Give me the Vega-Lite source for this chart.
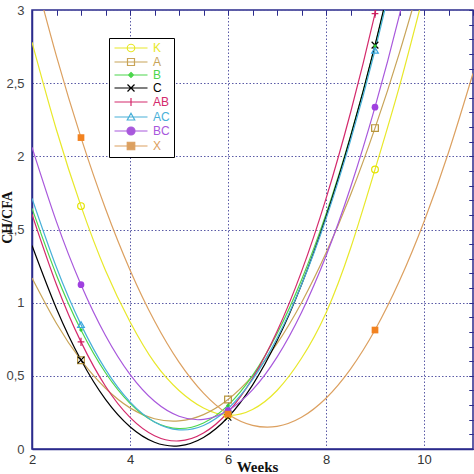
{
  "$schema": "https://vega.github.io/schema/vega-lite/v6.json",
  "width": 441,
  "height": 439,
  "autosize": {"type": "none"},
  "padding": {"left": 32, "top": 10, "right": 1, "bottom": 25},
  "background": "white",
  "config": {"view": {"stroke": "#2b2b8c", "strokeWidth": 1.5}, "font": "Liberation Sans"},
  "datasets": {
    "curves": [
      {"s": "K", "x": 2, "y": 2.78}, {"s": "K", "x": 2.5, "y": 2.18}, {"s": "K", "x": 3, "y": 1.66}, {"s": "K", "x": 3.5, "y": 1.22}, {"s": "K", "x": 4, "y": 0.87}, {"s": "K", "x": 4.5, "y": 0.59}, {"s": "K", "x": 5, "y": 0.4}, {"s": "K", "x": 5.5, "y": 0.28}, {"s": "K", "x": 6, "y": 0.23}, {"s": "K", "x": 6.5, "y": 0.27}, {"s": "K", "x": 7, "y": 0.4}, {"s": "K", "x": 7.5, "y": 0.62}, {"s": "K", "x": 8, "y": 0.93}, {"s": "K", "x": 8.5, "y": 1.37}, {"s": "K", "x": 9, "y": 1.91}, {"s": "K", "x": 9.5, "y": 2.48}, {"s": "K", "x": 10, "y": 3.12},
      {"s": "A", "x": 2, "y": 1.169}, {"s": "A", "x": 2.5, "y": 0.858}, {"s": "A", "x": 3, "y": 0.607}, {"s": "A", "x": 3.5, "y": 0.415}, {"s": "A", "x": 4, "y": 0.281}, {"s": "A", "x": 4.5, "y": 0.207}, {"s": "A", "x": 5, "y": 0.192}, {"s": "A", "x": 5.5, "y": 0.235}, {"s": "A", "x": 6, "y": 0.338}, {"s": "A", "x": 6.5, "y": 0.5}, {"s": "A", "x": 7, "y": 0.72}, {"s": "A", "x": 7.5, "y": 1.0}, {"s": "A", "x": 8, "y": 1.339}, {"s": "A", "x": 8.5, "y": 1.736}, {"s": "A", "x": 9, "y": 2.193}, {"s": "A", "x": 9.5, "y": 2.709}, {"s": "A", "x": 10, "y": 3.283},
      {"s": "B", "x": 2, "y": 1.645}, {"s": "B", "x": 2.5, "y": 1.188}, {"s": "B", "x": 3, "y": 0.813}, {"s": "B", "x": 3.5, "y": 0.521}, {"s": "B", "x": 4, "y": 0.312}, {"s": "B", "x": 4.5, "y": 0.185}, {"s": "B", "x": 5, "y": 0.14}, {"s": "B", "x": 5.5, "y": 0.178}, {"s": "B", "x": 6, "y": 0.298}, {"s": "B", "x": 6.5, "y": 0.501}, {"s": "B", "x": 7, "y": 0.787}, {"s": "B", "x": 7.5, "y": 1.155}, {"s": "B", "x": 8, "y": 1.605}, {"s": "B", "x": 8.5, "y": 2.138}, {"s": "B", "x": 9, "y": 2.754}, {"s": "B", "x": 9.5, "y": 3.452},
      {"s": "C", "x": 2, "y": 1.391}, {"s": "C", "x": 2.5, "y": 0.959}, {"s": "C", "x": 3, "y": 0.608}, {"s": "C", "x": 3.5, "y": 0.339}, {"s": "C", "x": 4, "y": 0.152}, {"s": "C", "x": 4.5, "y": 0.046}, {"s": "C", "x": 5, "y": 0.022}, {"s": "C", "x": 5.5, "y": 0.079}, {"s": "C", "x": 6, "y": 0.217}, {"s": "C", "x": 6.5, "y": 0.437}, {"s": "C", "x": 7, "y": 0.739}, {"s": "C", "x": 7.5, "y": 1.122}, {"s": "C", "x": 8, "y": 1.586}, {"s": "C", "x": 8.5, "y": 2.132}, {"s": "C", "x": 9, "y": 2.76}, {"s": "C", "x": 9.5, "y": 3.469},
      {"s": "AB", "x": 2, "y": 1.604}, {"s": "AB", "x": 2.5, "y": 1.123}, {"s": "AB", "x": 3, "y": 0.732}, {"s": "AB", "x": 3.5, "y": 0.429}, {"s": "AB", "x": 4, "y": 0.216}, {"s": "AB", "x": 4.5, "y": 0.091}, {"s": "AB", "x": 5, "y": 0.055}, {"s": "AB", "x": 5.5, "y": 0.109}, {"s": "AB", "x": 6, "y": 0.251}, {"s": "AB", "x": 6.5, "y": 0.483}, {"s": "AB", "x": 7, "y": 0.803}, {"s": "AB", "x": 7.5, "y": 1.212}, {"s": "AB", "x": 8, "y": 1.711}, {"s": "AB", "x": 8.5, "y": 2.298}, {"s": "AB", "x": 9, "y": 2.975}, {"s": "AB", "x": 9.5, "y": 3.74},
      {"s": "AC", "x": 2, "y": 1.713}, {"s": "AC", "x": 2.5, "y": 1.24}, {"s": "AC", "x": 3, "y": 0.85}, {"s": "AC", "x": 3.5, "y": 0.544}, {"s": "AC", "x": 4, "y": 0.322}, {"s": "AC", "x": 4.5, "y": 0.185}, {"s": "AC", "x": 5, "y": 0.131}, {"s": "AC", "x": 5.5, "y": 0.161}, {"s": "AC", "x": 6, "y": 0.275}, {"s": "AC", "x": 6.5, "y": 0.474}, {"s": "AC", "x": 7, "y": 0.756}, {"s": "AC", "x": 7.5, "y": 1.122}, {"s": "AC", "x": 8, "y": 1.572}, {"s": "AC", "x": 8.5, "y": 2.107}, {"s": "AC", "x": 9, "y": 2.725}, {"s": "AC", "x": 9.5, "y": 3.427},
      {"s": "BC", "x": 2, "y": 2.062}, {"s": "BC", "x": 2.5, "y": 1.552}, {"s": "BC", "x": 3, "y": 1.123}, {"s": "BC", "x": 3.5, "y": 0.776}, {"s": "BC", "x": 4, "y": 0.51}, {"s": "BC", "x": 4.5, "y": 0.326}, {"s": "BC", "x": 5, "y": 0.224}, {"s": "BC", "x": 5.5, "y": 0.202}, {"s": "BC", "x": 6, "y": 0.263}, {"s": "BC", "x": 6.5, "y": 0.404}, {"s": "BC", "x": 7, "y": 0.628}, {"s": "BC", "x": 7.5, "y": 0.933}, {"s": "BC", "x": 8, "y": 1.319}, {"s": "BC", "x": 8.5, "y": 1.787}, {"s": "BC", "x": 9, "y": 2.336}, {"s": "BC", "x": 9.5, "y": 2.967}, {"s": "BC", "x": 10, "y": 3.679},
      {"s": "X", "x": 2, "y": 3.306}, {"s": "X", "x": 2.5, "y": 2.683}, {"s": "X", "x": 3, "y": 2.128}, {"s": "X", "x": 3.5, "y": 1.642}, {"s": "X", "x": 4, "y": 1.224}, {"s": "X", "x": 4.5, "y": 0.875}, {"s": "X", "x": 5, "y": 0.594}, {"s": "X", "x": 5.5, "y": 0.382}, {"s": "X", "x": 6, "y": 0.238}, {"s": "X", "x": 6.5, "y": 0.162}, {"s": "X", "x": 7, "y": 0.155}, {"s": "X", "x": 7.5, "y": 0.217}, {"s": "X", "x": 8, "y": 0.347}, {"s": "X", "x": 8.5, "y": 0.546}, {"s": "X", "x": 9, "y": 0.813}, {"s": "X", "x": 9.5, "y": 1.149}, {"s": "X", "x": 10, "y": 1.553}, {"s": "X", "x": 10.5, "y": 2.026}, {"s": "X", "x": 11, "y": 2.567}
    ],
    "markers": [
      {"m": "K", "x": 3, "y": 1.66}, {"m": "K", "x": 6, "y": 0.23}, {"m": "K", "x": 9, "y": 1.91},
      {"m": "A", "x": 3, "y": 0.607}, {"m": "A", "x": 6, "y": 0.338}, {"m": "A", "x": 9, "y": 2.193},
      {"m": "B", "x": 3, "y": 0.813}, {"m": "B", "x": 6, "y": 0.298}, {"m": "B", "x": 9, "y": 2.754},
      {"m": "C", "x": 3, "y": 0.608}, {"m": "C", "x": 6, "y": 0.217}, {"m": "C", "x": 9, "y": 2.76},
      {"m": "AB", "x": 3, "y": 0.732}, {"m": "AB", "x": 6, "y": 0.251}, {"m": "AB", "x": 9, "y": 2.975},
      {"m": "AC", "x": 3, "y": 0.85}, {"m": "AC", "x": 6, "y": 0.275}, {"m": "AC", "x": 9, "y": 2.725},
      {"m": "BC", "x": 3, "y": 1.123}, {"m": "BC", "x": 6, "y": 0.263}, {"m": "BC", "x": 9, "y": 2.336},
      {"m": "X", "x": 3, "y": 2.128}, {"m": "X", "x": 6, "y": 0.238}, {"m": "X", "x": 9, "y": 0.813}
    ]
  },
  "layer": [
    {
      "data": {"name": "curves"},
      "mark": {"type": "line", "interpolate": "natural", "clip": true, "strokeWidth": 1.2},
      "encoding": {
        "x": {
          "field": "x", "type": "quantitative",
          "scale": {"domain": [2, 11], "nice": false, "zero": false},
          "axis": {
            "values": [2, 4, 6, 8, 10], "title": "Weeks",
            "titleFont": "Liberation Serif", "titleFontSize": 15, "titleFontWeight": "bold", "titleColor": "#111111",
            "titleX": 225, "titleY": 17, "titleBaseline": "middle", "titleAlign": "center",
            "labelFont": "Liberation Sans", "labelFontSize": 13, "labelColor": "#333333", "labelPadding": 4,
            "labelFlush": false, "labelOverlap": false, "ticks": false,
            "grid": true, "gridColor": "#5a5aa6", "gridDash": [1.5, 2], "gridWidth": 1,
            "domainColor": "#2b2b8c", "domainWidth": 1.5
          }
        },
        "y": {
          "field": "y", "type": "quantitative",
          "scale": {"domain": [0, 3], "nice": false},
          "axis": {
            "values": [0, 0.5, 1, 1.5, 2, 2.5, 3],
            "labelExpr": "replace(format(datum.value, '~g'), '.', ',')",
            "title": "CH/CFA",
            "titleFont": "Liberation Serif", "titleFontSize": 14, "titleFontWeight": "bold", "titleColor": "#111111",
            "titleX": -21, "titleY": 207, "titleBaseline": "alphabetic", "titleAlign": "center", "titleAngle": 270,
            "labelFont": "Liberation Sans", "labelFontSize": 13, "labelColor": "#444444", "labelPadding": 8,
            "labelFlush": false, "labelOverlap": false, "ticks": false,
            "grid": true, "gridColor": "#5a5aa6", "gridDash": [1.5, 2], "gridWidth": 1,
            "domainColor": "#2b2b8c", "domainWidth": 1.5
          }
        },
        "color": {
          "field": "s", "type": "nominal",
          "scale": {
            "domain": ["K", "A", "B", "C", "AB", "AC", "BC", "X"],
            "range": ["#e8e82a", "#c8a458", "#4cd64c", "#000000", "#d42a6c", "#48b0d8", "#a858dc", "#dca060"]
          },
          "legend": {
            "orient": "none", "legendX": 77, "legendY": 28, "title": null,
            "padding": 4, "strokeColor": "#000000", "fillColor": "#ffffff",
            "symbolSize": 100, "symbolStrokeWidth": 1.2, "symbolOffset": 12, "labelOffset": 16,
            "rowPadding": 1, "labelFont": "Liberation Sans", "labelFontSize": 12,
            "symbolType": {"expr": "datum.value === 'K' ? 'M-3.3,0H3.3M-0.75,0A0.75,0.75 0 1,0 0.75,0A0.75,0.75 0 1,0 -0.75,0Z' : datum.value === 'A' ? 'M-3.3,0H3.3M-0.7,-0.7H0.7V0.7H-0.7Z' : datum.value === 'B' ? 'M-3.3,0H3.3M0,-0.5L0.5,0L0,0.5L-0.5,0Z' : datum.value === 'C' ? 'M-3.3,0H3.3M-0.7,-0.7L0.7,0.7M-0.7,0.7L0.7,-0.7' : datum.value === 'AB' ? 'M-3.3,0H3.3M0,-0.8V0.8' : datum.value === 'AC' ? 'M-3.3,0H3.3M0,-0.75L0.75,0.6H-0.75Z' : datum.value === 'BC' ? 'M-3.3,0H3.3M-0.8,0A0.8,0.8 0 1,0 0.8,0A0.8,0.8 0 1,0 -0.8,0Z' : 'M-3.3,0H3.3M-0.75,-0.75H0.75V0.75H-0.75Z'"},
            "symbolFillColor": {"expr": "indexof(['B','BC','X'], datum.value) >= 0 ? scale('color', datum.value) : '#ffffff'"},
            "encode": {
              "labels": {"update": {"fill": {"signal": "scale('color', datum.value)"}}}
            }
          }
        }
      }
    },
    {
      "data": {"name": "markers"},
      "transform": [{"filter": "indexof(['K','A','C','AB','AC'], datum.m) >= 0"}],
      "mark": {"type": "point", "filled": false, "strokeWidth": 1.2, "opacity": 1, "clip": true},
      "encoding": {
        "x": {
          "field": "x", "type": "quantitative",
          "axis": {"values": [2, 2.5, 3, 3.5, 4, 4.5, 5, 5.5, 6, 6.5, 7, 7.5, 8, 8.5, 9, 9.5, 10, 10.5, 11], "labels": false, "domain": false, "grid": false, "title": null, "tickSize": -5, "tickColor": "#2b2b8c", "tickWidth": 1}
        },
        "y": {
          "field": "y", "type": "quantitative",
          "axis": {"values": [0, 0.1, 0.2, 0.3, 0.4, 0.5, 0.6, 0.7, 0.8, 0.9, 1, 1.1, 1.2, 1.3, 1.4, 1.5, 1.6, 1.7, 1.8, 1.9, 2, 2.1, 2.2, 2.3, 2.4, 2.5, 2.6, 2.7, 2.8, 2.9, 3], "labels": false, "domain": false, "grid": false, "title": null, "tickSize": -4, "tickColor": "#2b2b8c", "tickWidth": 1}
        },
        "stroke": {
          "field": "m", "type": "nominal", "legend": null,
          "scale": {
            "domain": ["A", "AB", "AC", "B", "BC", "C", "K", "X"],
            "range": ["#b8953a", "#d0205e", "#3aa6e0", "#33cc33", "#a040e0", "#000000", "#e4e400", "#f28220"]
          }
        },
        "shape": {
          "field": "m", "type": "nominal", "legend": null,
          "scale": {
            "domain": ["A", "AB", "AC", "B", "BC", "C", "K", "X"],
            "range": ["square", "M-1,0H1M0,-1.2V1.2", "triangle-up", "diamond", "circle", "M-1,-1L1,1M-1,1L1,-1", "circle", "square"]
          }
        },
        "size": {"value": 45}
      }
    },
    {
      "data": {"name": "markers"},
      "transform": [{"filter": "indexof(['B','BC','X'], datum.m) >= 0"}],
      "mark": {"type": "point", "filled": true, "opacity": 1, "clip": true},
      "encoding": {
        "x": {
          "field": "x", "type": "quantitative",
          "axis": {"orient": "top", "values": [2, 2.5, 3, 3.5, 4, 4.5, 5, 5.5, 6, 6.5, 7, 7.5, 8, 8.5, 9, 9.5, 10, 10.5, 11], "labels": false, "domain": false, "grid": false, "title": null, "tickSize": -5, "tickColor": "#2b2b8c", "tickWidth": 1}
        },
        "y": {
          "field": "y", "type": "quantitative",
          "axis": {"orient": "right", "values": [0, 0.1, 0.2, 0.3, 0.4, 0.5, 0.6, 0.7, 0.8, 0.9, 1, 1.1, 1.2, 1.3, 1.4, 1.5, 1.6, 1.7, 1.8, 1.9, 2, 2.1, 2.2, 2.3, 2.4, 2.5, 2.6, 2.7, 2.8, 2.9, 3], "labels": false, "domain": false, "grid": false, "title": null, "tickSize": -4, "tickColor": "#2b2b8c", "tickWidth": 1}
        },
        "fill": {
          "field": "m", "type": "nominal", "legend": null,
          "scale": {
            "domain": ["A", "AB", "AC", "B", "BC", "C", "K", "X"],
            "range": ["#b8953a", "#d0205e", "#3aa6e0", "#33cc33", "#a040e0", "#000000", "#e4e400", "#f28220"]
          }
        },
        "shape": {"field": "m", "type": "nominal", "legend": null},
        "size": {"condition": {"test": "datum.m === 'B'", "value": 16}, "value": 45}
      }
    }
  ],
  "resolve": {"axis": {"x": "independent", "y": "independent"}}
}
